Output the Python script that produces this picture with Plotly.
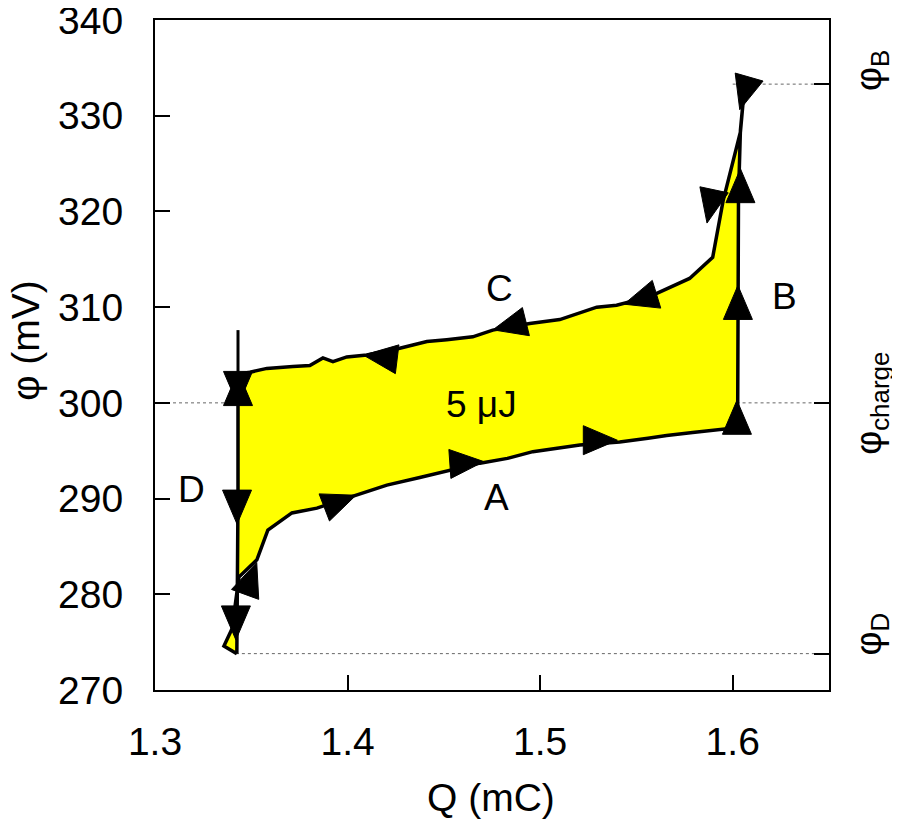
import numpy as np
import plotly.graph_objects as go

# axis ranges
Q_RANGE = [1.30, 1.65]
PHI_RANGE = [270, 340]
Q_TICKS = [1.3, 1.4, 1.5, 1.6]
PHI_TICKS = [270, 280, 290, 300, 310, 320, 330, 340]

# cycle branches (Q in mC, phi in mV)
Q_A = [1.3425, 1.3358, 1.3400, 1.3436, 1.3529, 1.3586, 1.3711, 1.3841, 1.3930, 1.4048,
       1.4204, 1.4375, 1.4546, 1.4687, 1.4830, 1.4962, 1.5206, 1.5413, 1.5560, 1.5657,
       1.5792, 1.5948, 1.6020]
PHI_A = [273.8, 274.6, 276.4, 281.8, 283.6, 286.7, 288.5, 289.0, 289.6, 290.4,
         291.4, 292.2, 293.0, 293.7, 294.2, 294.9, 295.6, 295.9, 296.3, 296.6,
         296.9, 297.2, 297.4]

Q_B = [1.6026, 1.6030, 1.6040, 1.6062]
PHI_B = [300.0, 321.5, 328.5, 333.2]

Q_C = [1.6040, 1.5950, 1.5896, 1.5776, 1.5569, 1.5397, 1.5294, 1.5102, 1.4946, 1.4754,
       1.4650, 1.4515, 1.4412, 1.4271, 1.4100, 1.3996, 1.3924, 1.3872, 1.3804, 1.3716,
       1.3581, 1.3493, 1.3457]
PHI_C = [328.3, 321.1, 315.2, 313.0, 311.1, 310.2, 310.0, 308.7, 308.3, 307.6,
         306.9, 306.6, 306.4, 305.7, 305.0, 304.8, 304.3, 304.7, 303.9, 303.8,
         303.6, 303.2, 303.1]

Q_D = [1.3431, 1.3431, 1.3428]
PHI_D = [303.0, 290.0, 274.0]

Q_D_TOP = [1.3431, 1.3431]
PHI_D_TOP = [303.0, 307.6]

# direction arrows: position, angle (deg clockwise from up)
ARROW_Q = [1.3488, 1.3934, 1.4590, 1.5283, 1.6022, 1.6027, 1.6040, 1.6069,
           1.5891, 1.5548, 1.4869, 1.4199, 1.3431, 1.3431, 1.3426, 1.3420]
ARROW_PHI = [281.1, 289.5, 293.7, 296.1, 297.9, 309.9, 322.1, 332.9,
             321.1, 311.0, 308.2, 304.7, 302.1, 300.9, 289.7, 277.6]
ARROW_ANGLE = [20, 69, 86, 90, 0, 0, 0, 196, 192, 253, 256, 277, 180, 0, 180, 180]

# reference levels
PHI_B_LEVEL = 333.3
PHI_CHARGE = 300.0
PHI_D_LEVEL = 273.8
LEVELS = [PHI_B_LEVEL, PHI_CHARGE, PHI_CHARGE, PHI_D_LEVEL]
LEVEL_Q0 = [1.600, 1.602, 1.300, 1.342]
LEVEL_Q1 = [1.650, 1.650, 1.342, 1.650]

W, H = 900, 820
# the page adds an 8px body margin, so the plot box is shifted back by it
M = dict(l=147, r=79, t=12, b=138)
FONT = "Liberation Sans, Arial, sans-serif"

px_x = (W - M['l'] - M['r']) / (Q_RANGE[1] - Q_RANGE[0])
px_y = (H - M['t'] - M['b']) / (PHI_RANGE[1] - PHI_RANGE[0])


def triangulos(qs, phis, angs, h=34, w=29):
    xs, ys = [], []
    for q, p, a in zip(qs, phis, angs):
        r = np.radians(a)
        ux, uy = np.sin(r), np.cos(r)
        nx, ny = -uy, ux
        pts = [(2 * h / 3 * ux, 2 * h / 3 * uy),
               (-h / 3 * ux + w / 2 * nx, -h / 3 * uy + w / 2 * ny),
               (-h / 3 * ux - w / 2 * nx, -h / 3 * uy - w / 2 * ny)]
        for dx, dy in pts + pts[:1]:
            xs.append(q + dx / px_x)
            ys.append(p + dy / px_y)
        xs.append(None)
        ys.append(None)
    return xs, ys


loop_q = Q_A + Q_B + Q_C + Q_D + Q_A[:1]
loop_phi = PHI_A + PHI_B + PHI_C + PHI_D + PHI_A[:1]

fig = go.Figure()

lx, ly = [], []
for q0, q1, lv in zip(LEVEL_Q0, LEVEL_Q1, LEVELS):
    lx += [q0, q1, None]
    ly += [lv, lv, None]
fig.add_trace(go.Scatter(x=lx, y=ly, mode='lines', hoverinfo='skip',
                         line=dict(color='#666666', width=1, dash='dot')))

fig.add_trace(go.Scatter(x=loop_q, y=loop_phi, mode='lines', fill='toself',
                         fillcolor='#FFFF00', line=dict(width=0), hoverinfo='skip'))
fig.add_trace(go.Scatter(x=loop_q, y=loop_phi, mode='lines',
                         line=dict(color='black', width=3.5)))
fig.add_trace(go.Scatter(x=Q_D_TOP, y=PHI_D_TOP, mode='lines',
                         line=dict(color='black', width=3)))

tx, ty = triangulos(ARROW_Q, ARROW_PHI, ARROW_ANGLE)
fig.add_trace(go.Scatter(x=tx, y=ty, mode='lines', fill='toself', fillcolor='black',
                         line=dict(color='black', width=1), hoverinfo='skip'))

# dummy trace to activate y2 axis
fig.add_trace(go.Scatter(x=[None], y=[None], yaxis='y2', showlegend=False))

etiquetas = [
    dict(x=1.4697, y=299.8, text='5 μJ'),
    dict(x=1.4775, y=290.1, text='A'),
    dict(x=1.6270, y=311.1, text='B'),
    dict(x=1.4790, y=312.0, text='C'),
    dict(x=1.3192, y=290.9, text='D'),
]
anns = [dict(a, xref='x', yref='y', showarrow=False, xanchor='center', yanchor='middle',
             font=dict(size=37, family=FONT, color='black'))
        for a in etiquetas]

for txt, lv, sh in [('φ<sub>B</sub>', PHI_B_LEVEL, 14), ('φ<sub>charge</sub>', PHI_CHARGE, 0),
                    ('φ<sub>D</sub>', PHI_D_LEVEL, 20)]:
    anns.append(dict(x=1.0623, y=lv, xref='paper', yref='y', text=txt, textangle=-90,
                     xanchor='center', yanchor='middle', yshift=sh, showarrow=False,
                     font=dict(size=37, family=FONT, color='black')))

anns.append(dict(x=-0.192, y=0.522, xref='paper', yref='paper', text='φ (mV)', textangle=-90,
                 xanchor='center', yanchor='middle', showarrow=False,
                 font=dict(size=39, family=FONT, color='black')))
anns.append(dict(x=0.4985, y=-0.16, xref='paper', yref='paper', text='Q (mC)',
                 xanchor='center', yanchor='middle', showarrow=False,
                 font=dict(size=39, family=FONT, color='black')))

fig.update_layout(
    width=W, height=H, margin=M, showlegend=False,
    plot_bgcolor='white', paper_bgcolor='white',
    font=dict(family=FONT, size=39, color='black'),
    xaxis=dict(range=Q_RANGE, tickvals=Q_TICKS, ticktext=[f'{v:.1f}' for v in Q_TICKS],
               ticks='inside', ticklen=15, tickwidth=2, tickcolor='black',
               showline=True, linewidth=2, linecolor='black', mirror=True,
               showgrid=False, zeroline=False, ticklabelstandoff=16,
               ticklabeloverflow='allow', automargin=False),
    yaxis=dict(range=PHI_RANGE, tickvals=PHI_TICKS,
               ticks='inside', ticklen=15, tickwidth=2, tickcolor='black',
               showline=True, linewidth=2, linecolor='black', mirror=True,
               showgrid=False, zeroline=False, ticklabelstandoff=22,
               ticklabeloverflow='allow', automargin=False),
    yaxis2=dict(range=PHI_RANGE, overlaying='y', side='right',
                tickvals=[PHI_B_LEVEL, PHI_CHARGE, PHI_D_LEVEL], showticklabels=False,
                ticks='inside', ticklen=15, tickwidth=2, tickcolor='black',
                showline=False, showgrid=False, zeroline=False, automargin=False),
    annotations=anns,
)

fig.write_html("out.html")
